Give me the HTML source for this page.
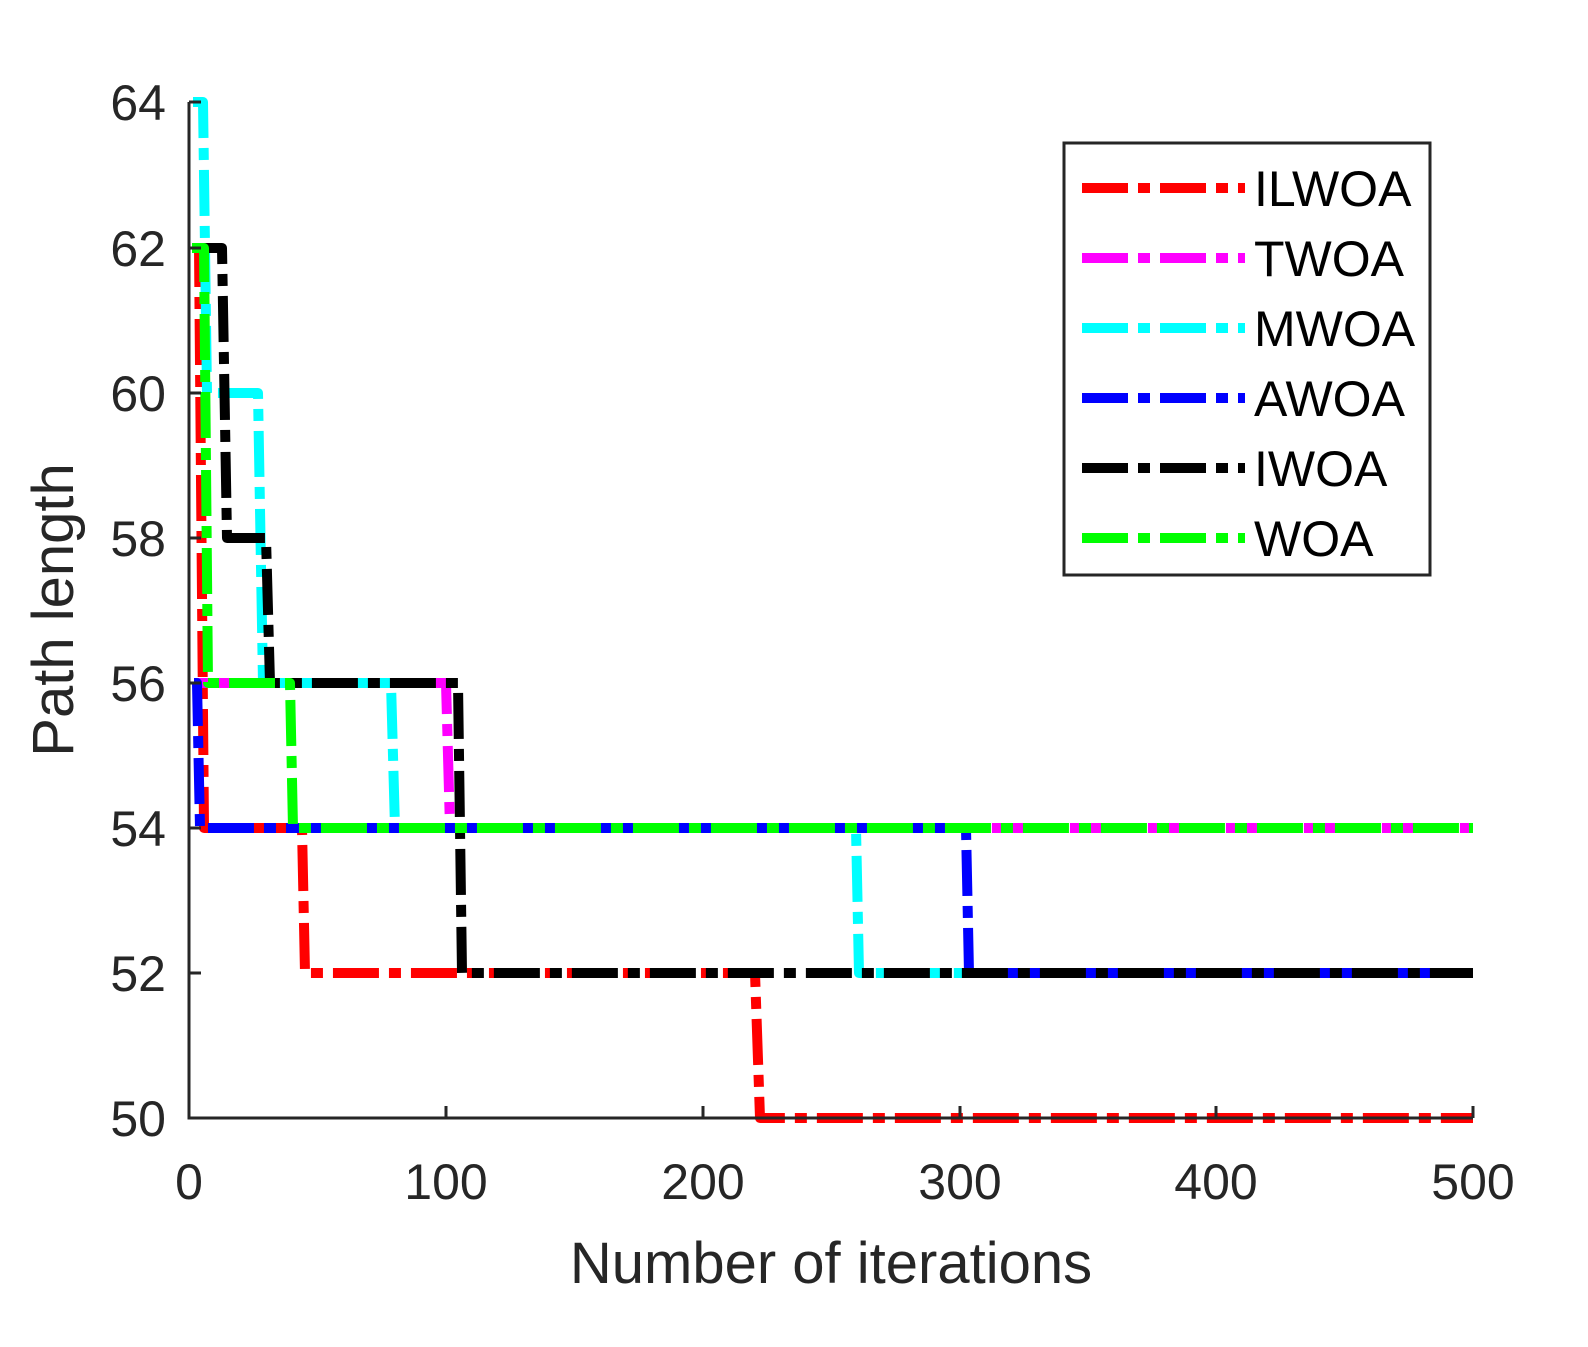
<!DOCTYPE html>
<html><head><style>body{margin:0;background:#fff}</style></head><body>
<svg width="1588" height="1342" xmlns="http://www.w3.org/2000/svg" font-family="Liberation Sans, Arial, sans-serif">
<rect width="1588" height="1342" fill="#fff"/>
<g fill="none" stroke-width="10" stroke-dasharray="46 10 12 10" stroke-linejoin="round">
<polyline stroke="#ff0000" points="192,248 199,248 204,828 302,828 305,973 755,973 760,1118 1473,1118"/>
<polyline stroke="#ff00ff" points="197,683 446,683 450,828 1473,828"/>
<polyline stroke="#00ffff" points="193,102 203,102 207,393 258,393 263,683 391,683 395,828 856,828 859,973 1473,973"/>
<polyline stroke="#0000ff" points="194,683 197,683 200,828 966,828 969,973 1473,973"/>
<polyline stroke="#000000" points="192,248 222,248 227,538 266,538 270,683 458,683 462,973 1473,973"/>
<polyline stroke="#00ff00" points="192,248 204,248 208,683 290,683 293,828 1473,828"/>
</g>
<g stroke="#262626" stroke-width="3" fill="none">
<polyline points="189,102 189,1118 1473,1118"/>
<path d="M446,1118v-12M703,1118v-12M960,1118v-12M1216,1118v-12M1473,1118v-12M189,973h12M189,828h12M189,683h12M189,538h12M189,393h12M189,248h12M189,102h12"/>
</g>
<g font-size="50" fill="#262626" text-anchor="end">
<text x="166" y="1136">50</text><text x="166" y="991">52</text><text x="166" y="846">54</text><text x="166" y="701">56</text><text x="166" y="556">58</text><text x="166" y="411">60</text><text x="166" y="266">62</text><text x="166" y="120">64</text>
</g>
<g font-size="50" fill="#262626" text-anchor="middle">
<text x="189" y="1199">0</text><text x="446" y="1199">100</text><text x="703" y="1199">200</text><text x="960" y="1199">300</text><text x="1216" y="1199">400</text><text x="1473" y="1199">500</text>
</g>
<text x="831" y="1283" font-size="58" fill="#262626" text-anchor="middle">Number of iterations</text>
<text transform="translate(73,610) rotate(-90)" font-size="58" fill="#262626" text-anchor="middle">Path length</text>
<rect x="1064" y="143" width="366" height="432" fill="#fff" stroke="#262626" stroke-width="3"/>
<g stroke-width="10" stroke-dasharray="46 10 12 10">
<line x1="1082" y1="188" x2="1245" y2="188" stroke="#ff0000"/>
<line x1="1082" y1="258" x2="1245" y2="258" stroke="#ff00ff"/>
<line x1="1082" y1="328" x2="1245" y2="328" stroke="#00ffff"/>
<line x1="1082" y1="398" x2="1245" y2="398" stroke="#0000ff"/>
<line x1="1082" y1="468" x2="1245" y2="468" stroke="#000000"/>
<line x1="1082" y1="538" x2="1245" y2="538" stroke="#00ff00"/>
</g>
<g font-size="50" fill="#000">
<text x="1254" y="206">ILWOA</text><text x="1254" y="276">TWOA</text><text x="1254" y="346">MWOA</text><text x="1254" y="416">AWOA</text><text x="1254" y="486">IWOA</text><text x="1254" y="556">WOA</text>
</g>
</svg>
</body></html>
